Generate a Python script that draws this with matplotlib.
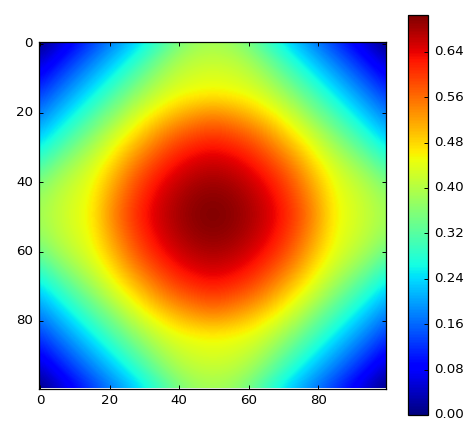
import numpy as np
import matplotlib
matplotlib.use('Agg')
import matplotlib.pyplot as plt
from matplotlib.transforms import ScaledTranslation

# upper-left quarter of the field, sampled every 5 cells from the corner to the centre
row00 = [.000, .040, .083, .125, .167, .208, .250, .295, .345, .375, .385]
row05 = [.040, .083, .125, .167, .208, .250, .295, .345, .385, .405, .410]
row10 = [.083, .125, .167, .208, .250, .295, .340, .385, .415, .430, .435]
row15 = [.125, .167, .208, .250, .295, .340, .385, .422, .445, .455, .460]
row20 = [.167, .208, .250, .295, .340, .390, .432, .465, .495, .515, .525]
row25 = [.208, .250, .295, .340, .390, .435, .478, .520, .550, .570, .582]
row30 = [.250, .295, .340, .385, .432, .478, .525, .565, .597, .615, .625]
row35 = [.295, .345, .385, .422, .465, .520, .565, .603, .632, .650, .658]
row40 = [.345, .385, .415, .445, .495, .550, .597, .632, .658, .675, .681]
row45 = [.375, .405, .430, .455, .515, .570, .615, .650, .675, .692, .698]
row50 = [.385, .410, .435, .460, .525, .582, .625, .658, .681, .698, .705]

axis_ticks = [0, 20, 40, 60, 80]
cbar_ticks = [0.00, 0.08, 0.16, 0.24, 0.32, 0.40, 0.48, 0.56, 0.64]
vmin = 0.0
vmax = 0.705

quarter = np.array([row00, row05, row10, row15, row20, row25,
                    row30, row35, row40, row45, row50])
# the field is symmetric about both centre lines
top = np.hstack((quarter, quarter[:, -2::-1]))
field = np.vstack((top, top[-2::-1, :]))

plt.rcParams['font.family'] = 'DejaVu Sans'
plt.rcParams['font.size'] = 9.6

fig = plt.figure(figsize=(4.74, 4.38), dpi=100)
W, H = 474.0, 438.0

ax = fig.add_axes([38.5/W, 1-388.5/H, 347.5/W, 346.5/H])
# samples sit 5 cells apart, from -0.5 to 99.5
im = ax.imshow(field, cmap='jet', vmin=vmin, vmax=vmax, interpolation='bicubic',
               extent=(-3, 102, 102, -3), aspect='auto')
ax.set_xlim(-0.5, 99.5)
ax.set_ylim(99.5, -0.5)
ax.set_xticks(axis_ticks)
ax.set_yticks(axis_ticks)
ax.tick_params(direction='in', top=True, right=True, length=3.2, width=0.7, pad=4)
for s in ax.spines.values():
    s.set_linewidth(0.9)

cax = fig.add_axes([407.5/W, 1-415/H, 20/W, 400/H])
cb = fig.colorbar(im, cax=cax, ticks=cbar_ticks, format='%.2f')
cb.ax.tick_params(direction='in', length=3.2, width=0.7, pad=5)
cb.outline.set_linewidth(0.9)

# nudge the vertical-axis labels up a little
up = ScaledTranslation(0, 1.2/72, fig.dpi_scale_trans)
for lab in ax.get_yticklabels() + cb.ax.get_yticklabels():
    lab.set_transform(lab.get_transform() + up)

fig.savefig('out.png', dpi=100)
